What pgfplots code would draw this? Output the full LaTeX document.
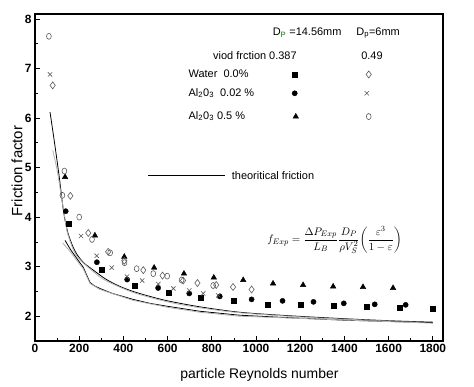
\documentclass[border=0pt]{standalone}
\usepackage{amsmath}
\usepackage{pgfplots}
\pgfplotsset{compat=1.18}
\usepackage{fontspec}
\setmainfont{Liberation Sans}
\begin{document}
\begin{tikzpicture}
\path[use as bounding box] (-35bp,-46bp) rectangle (439bp,341bp);
\begin{axis}[
  at={(0,0)}, anchor=south west,
  scale only axis, width=408bp, height=327bp,
  xmin=0, xmax=1846, ymin=1.5, ymax=8.1,
  xtick={0,200,...,1800}, ytick={2,3,...,8},
  minor x tick num=1, minor y tick num=1,
  tick pos=left, tick align=inside,
  major tick length=5bp, minor tick length=3bp,
  axis line style={line width=1.3pt},
  tick style={black, line width=0.8pt},
  ticklabel style={font=\fontsize{12}{14}\selectfont\bfseries},
  /pgf/number format/assume math mode=true,
  /pgf/number format/1000 sep={},
  xlabel={particle Reynolds number},
  ylabel={Friction factor},
  xlabel style={font=\fontsize{14}{16}\selectfont, at={(axis description cs:0.55,-0.104)}, anchor=center},
  ylabel style={font=\fontsize{15}{17}\selectfont, at={(axis description cs:-0.044,0.52)}, anchor=center, rotate=0},
  clip=false,
]
% theoretical curves
\addplot[black, line width=0.8pt, smooth] coordinates {(68,6.12)(90,5.45)(110,4.8)(128,4.15)(140,3.85)(151,3.65)(170,3.42)(188,3.26)(220,3.08)(264,2.93)(320,2.75)(380,2.61)(444,2.50)(520,2.40)(600,2.31)(746,2.19)(927,2.08)(1150,2.01)(1400,1.95)(1600,1.91)(1800,1.88)};
\addplot[gray!60, line width=0.8pt, smooth] coordinates {(80,5.35)(100,4.95)(120,4.4)(140,3.85)(151,3.62)(188,3.22)(264,2.90)(320,2.72)(444,2.48)(600,2.29)(746,2.17)(927,2.07)(1150,2.0)(1400,1.94)(1800,1.87)};
\addplot[black, line width=0.8pt] coordinates {(136,3.53)(160,3.35)(190,3.16)(218,2.99)(235,2.82)(249,2.68)(270,2.61)(294,2.56)(350,2.46)(444,2.34)(520,2.26)(600,2.20)(746,2.10)(927,2.02)(1150,1.97)(1400,1.92)(1800,1.87)};
\addplot[gray!60, line width=0.8pt] coordinates {(125,3.48)(160,3.30)(190,3.12)(218,2.96)(249,2.66)(294,2.54)(444,2.32)(600,2.18)(746,2.08)(927,2.00)(1800,1.86)};
% Water 14.56
\addplot[only marks, mark=square*, mark size=2.5bp, black] coordinates {(151,3.87)(301,2.94)(449,2.62)(603,2.48)(750,2.38)(901,2.32)(1052,2.24)(1200,2.24)(1352,2.21)(1500,2.19)(1652,2.17)(1801,2.16)(1175,6.88)};
% Al2O3 0.02 14.56
\addplot[only marks, mark=*, mark size=2.6bp, black] coordinates {(139,4.12)(280,3.09)(417,2.74)(557,2.57)(698,2.46)(836,2.40)(980,2.34)(1120,2.31)(1260,2.29)(1397,2.26)(1537,2.24)(1677,2.23)(1175,6.50)};
% Al2O3 0.5 14.56
\addplot[only marks, mark=triangle*, mark size=3.2bp, black] coordinates {(136,4.81)(271,3.63)(404,3.20)(539,2.98)(674,2.86)(809,2.78)(942,2.73)(1077,2.66)(1213,2.63)(1349,2.60)(1484,2.59)(1620,2.57)(1180,6.03)};
% Water 6mm
\addplot[only marks, mark=diamond, mark size=3.5bp, gray!70!black, mark options={line width=0.6pt}] coordinates {(80,6.66)(160,4.43)(241,3.68)(331,3.30)(404,3.12)(490,2.93)(577,2.82)(670,2.72)(735,2.67)(820,2.63)(896,2.59)(980,2.54)(1510,6.88)};
% Al2O3 0.02 6mm
\addplot[only marks, mark=x, mark size=3bp, gray!70!black, mark options={line width=0.6pt}] coordinates {(68,6.88)(208,3.62)(279,3.22)(347,2.98)(416,2.80)(485,2.72)(558,2.65)(626,2.56)(698,2.52)(761,2.46)(829,2.42)(1501,6.50)};
% Al2O3 0.5 6mm
\addplot[only marks, mark=o, mark size=3bp, gray!70!black, mark options={xscale=0.8, line width=0.6pt}] coordinates {(63,7.65)(133,4.93)(124,4.44)(200,4.00)(258,3.55)(340,3.28)(405,3.08)(460,2.96)(535,2.86)(598,2.81)(663,2.73)(806,2.62)(1510,6.03)};
% theoretical legend line
\addplot[black, line width=0.6pt] coordinates {(511,4.84)(859,4.84)};
\node[anchor=west, font=\fontsize{11}{13}\selectfont] at (axis cs:875,4.84) {theoritical friction};
% legend texts
\node[font=\fontsize{11}{13}\selectfont] at (rel axis cs:0.667,0.942) {D\textsubscript{\color{green!50!black}P} =14.56mm};
\node[font=\fontsize{11}{13}\selectfont] at (rel axis cs:0.841,0.942) {D\textsubscript{p}=6mm};
\node[anchor=east, font=\fontsize{11}{13}\selectfont] at (rel axis cs:0.650,0.872) {viod frction 0.387};
\node[font=\fontsize{11}{13}\selectfont] at (rel axis cs:0.826,0.872) {0.49};
\node[anchor=west, font=\fontsize{11}{13}\selectfont] at (rel axis cs:0.368,0.817) {Water\ \ 0.0\%};
\node[anchor=west, font=\fontsize{11}{13}\selectfont] at (rel axis cs:0.368,0.758) {Al\textsubscript{2}0\textsubscript{3}\ \ 0.02 \%};
\node[anchor=west, font=\fontsize{11}{13}\selectfont] at (rel axis cs:0.368,0.688) {Al\textsubscript{2}0\textsubscript{3} 0.5 \%};
% formula
\node[anchor=west, inner sep=0pt, font=\fontsize{11}{13}\selectfont] at (rel axis cs:0.569,0.309) {$f_{Exp}=\dfrac{\Delta P_{Exp}}{L_B}\dfrac{D_P}{\rho V_S^2}\!\left(\dfrac{\varepsilon^3}{1-\varepsilon}\right)$};
\end{axis}
\end{tikzpicture}
\end{document}
